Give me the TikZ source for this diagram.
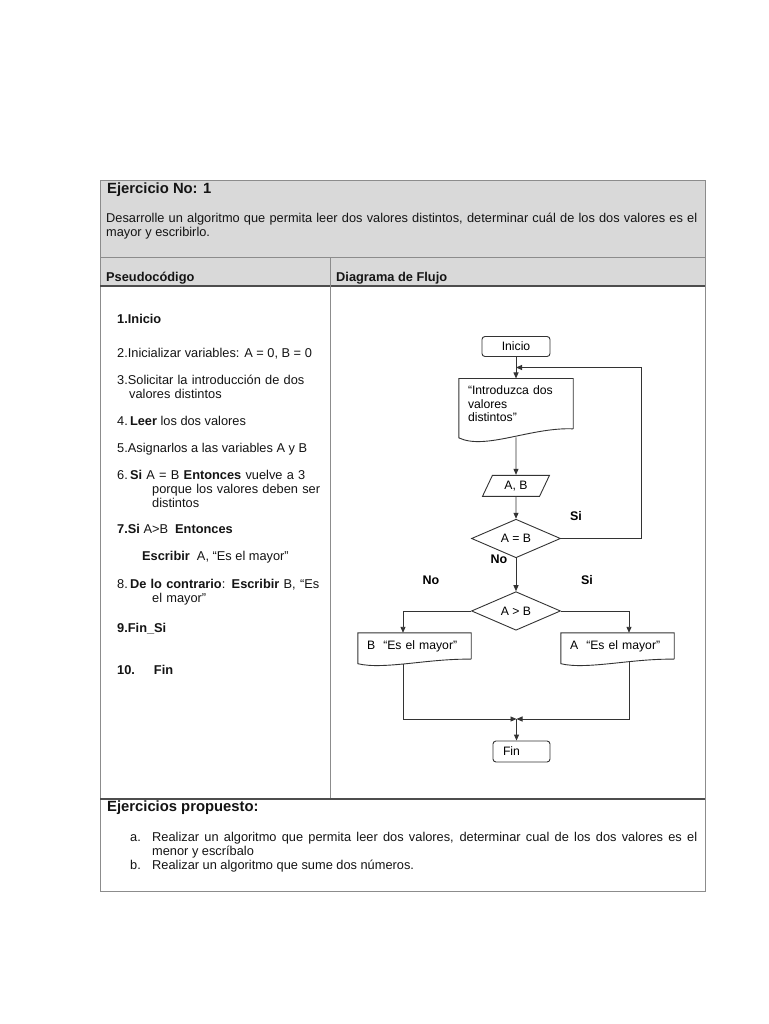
\documentclass[tikz,border=0pt]{standalone}
\usepackage{fontspec}
\setmainfont{Liberation Sans}
\usepackage{xcolor}
\definecolor{cHead}{HTML}{D9D9D9}
\definecolor{cRule}{HTML}{8C8C8C}
\definecolor{cRuleDark}{HTML}{4D4D4D}
\definecolor{cLine}{HTML}{333333}
\definecolor{cText}{HTML}{141414}
\usepackage{tikz}
\usetikzlibrary{positioning,arrows.meta,shapes.geometric,calc}

\newcommand{\bodyfont}{\fontsize{12.8}{14}\selectfont}
\newcommand{\titlefont}{\fontsize{14.8}{17}\selectfont\bfseries}
\newcommand{\flowfont}{\fontsize{12.2}{13.6}\selectfont}
% contorno de documento: lados rectos y borde inferior ondulado
\newcommand{\docoutline}[2]{%
  \draw[line-doc] (#1.south east) -- (#1.north east) -- (#1.north west)
    -- ([yshift=-#2]#1.south west)
    .. controls ($(#1.south east)!0.77!(#1.south west)+(0,-2.4*#2)$)
    and ($(#1.south east)!0.37!(#1.south west)+(0,0.2*#2)$) .. (#1.south east);}

\tikzset{
  text-body/.style={anchor=base west,inner sep=0pt,align=left,font=\bodyfont,text=cText},
  text-block/.style={text-body,text width=205pt},
  text-title/.style={anchor=base west,inner sep=0pt,font=\titlefont,text=cText},
  rule-light/.style={draw=cRule,line width=1pt},
  rule-dark/.style={draw=cRuleDark,line width=1.6pt},
  node-term/.style={draw=cLine,line width=0.9pt,rounded corners=3pt,
    minimum width=68pt,minimum height=20pt,inner sep=0pt,font=\flowfont},
  node-doc/.style={inner ysep=0pt,inner xsep=9pt,align=left,font=\flowfont},
  node-io/.style={draw=cLine,line width=0.9pt,trapezium,trapezium left angle=64,
    trapezium right angle=116,trapezium stretches=true,
    minimum width=67pt,minimum height=21pt,inner sep=0pt,font=\flowfont},
  node-dec/.style={draw=cLine,line width=0.9pt,diamond,
    minimum width=89pt,minimum height=31pt,inner sep=0pt,font=\flowfont},
  node-lbl/.style={inner sep=0pt,font=\fontsize{12.5}{14}\selectfont\bfseries},
  line-doc/.style={draw=cLine,line width=0.9pt},
  arrow/.style={-{Triangle[length=6pt,width=5pt]},draw=cLine,line width=0.9pt},
}

\begin{document}
\begin{tikzpicture}[x=1pt,y=-1pt]
  \useasboundingbox[fill=white] (0,0) rectangle (768,1024);

  % tabla
  \fill[cHead] (100,181) rectangle (705,286);
  \draw[rule-light] (100,181) rectangle (705,891);
  \draw[rule-light] (100,257) -- (705,257);
  \draw[rule-dark] (100,286) -- (705,286);
  \draw[rule-light] (330,257) -- (330,799);
  \draw[rule-dark] (100,799) -- (705,799);

  % encabezado
  \node[text-title] (ej-title) at (107,193.5) {Ejercicio No: 1};
  \node[text-body,text width=591pt,align=justify] (ej-desc) at (106,222.5)
    {Desarrolle un algoritmo que permita leer dos valores distintos, determinar cuál de los dos valores es el\linebreak mayor y escribirlo.};
  \node[text-body,font=\bodyfont\bfseries] (col-pseudo) at (106,281) {Pseudocódigo};
  \node[text-body,font=\bodyfont\bfseries] (col-flujo) at (336,281) {Diagrama de Flujo};

  % pseudocodigo
  \node[text-body] (p1) at (117,323.5) {\textbf{1.Inicio}};
  \node[text-body] (p2) at (117,357.5) {2.Inicializar variables: A = 0, B = 0};
  \node[text-block] (p3) at (117,384.5) {3.Solicitar la introducción de dos\\\hspace*{12pt}valores distintos};
  \node[text-body] (p4) at (117,425.5) {4.\,\textbf{Leer} los dos valores};
  \node[text-body] (p5) at (117,452.5) {5.Asignarlos a las variables A y B};
  \node[text-block] (p6) at (117,479.5) {6.\,\textbf{Si} A = B \textbf{Entonces} vuelve a 3\\\hspace*{35pt}porque los valores deben ser\\\hspace*{35pt}distintos};
  \node[text-body] (p7) at (117,533.5) {\textbf{7.Si} A>B\ \ \textbf{Entonces}};
  \node[text-body] (p7b) at (142,560.5) {\textbf{Escribir}\ \ A, “Es el mayor”};
  \node[text-block] (p8) at (117,588.5) {8.\,\textbf{De lo contrario}: \textbf{Escribir} B, “Es\\\hspace*{35pt}el mayor”};
  \node[text-body] (p9) at (117,632.5) {\textbf{9.Fin\_Si}};
  \node[text-body] (p10) at (117,674.5) {\textbf{10.\hspace{19pt}Fin}};

  % diagrama de flujo
  \node[node-term] (inicio) at (516,346.5) {Inicio};
  \node[node-doc,text width=96pt,minimum height=50pt,below=21.5pt of inicio] (intro)
    {“Introduzca dos\\valores\\distintos”};
  \node[node-io,below=46pt of intro] (ab) {A, B};
  \node[node-dec,below=22pt of ab] (eq) {A = B};
  \node[node-dec,below=33pt of eq] (gt) {A > B};
  \node[node-doc,text width=95pt,minimum height=26pt] (bdoc) at (414.5,646) {B\ \ “Es el mayor”};
  \node[node-doc,text width=95pt,minimum height=26pt] (adoc) at (617.5,646) {A\ \ “Es el mayor”};
  \node[node-term,minimum width=57pt,minimum height=21pt,text width=37pt,
    inner xsep=10pt,align=left] (fin) at (521.5,751.5) {Fin};
  \docoutline{intro}{9pt}
  \docoutline{bdoc}{4.5pt}
  \docoutline{adoc}{4.5pt}

  \coordinate (loop-in) at (516,367.5);
  \coordinate (loop-corner) at (641,367.5);
  \coordinate (merge) at (516.5,719);

  \draw[arrow] (inicio) -- (intro);
  \draw[arrow] ([yshift=-8.5pt]intro.south) -- (ab);
  \draw[arrow] (ab) -- (eq);
  \draw[arrow] (eq.east) -| (loop-corner) -- (loop-in);
  \draw[arrow] (eq) -- (gt);
  \draw[arrow] (gt.west) -| ([xshift=-11.5pt]bdoc.north);
  \draw[arrow] (gt.east) -| ([xshift=11.5pt]adoc.north);
  \draw[arrow] ([xshift=-11.5pt,yshift=-5pt]bdoc.south) |- (merge);
  \draw[arrow] ([xshift=11.5pt,yshift=-3pt]adoc.south) |- (merge);
  \draw[arrow] (merge) -- (merge |- fin.north);

  \node[node-lbl] (lbl-eq-si) at (576,516) {Si};
  \node[node-lbl] (lbl-eq-no) at (499,559) {No};
  \node[node-lbl] (lbl-gt-no) at (431,580) {No};
  \node[node-lbl] (lbl-gt-si) at (587,580) {Si};

  % ejercicios propuestos
  \node[text-title] (prop-title) at (107,811) {Ejercicios propuesto:};
  \node[text-body] (prop-a) at (130,841) {a.};
  \node[text-body,text width=545pt,align=justify] (prop-a-txt) at (152,841)
    {Realizar un algoritmo que permita leer dos valores, determinar cual de los dos valores es el\linebreak menor y escríbalo};
  \node[text-body] (prop-b) at (130,869) {b.};
  \node[text-body] (prop-b-txt) at (152,869) {Realizar un algoritmo que sume dos números.};
\end{tikzpicture}
\end{document}
